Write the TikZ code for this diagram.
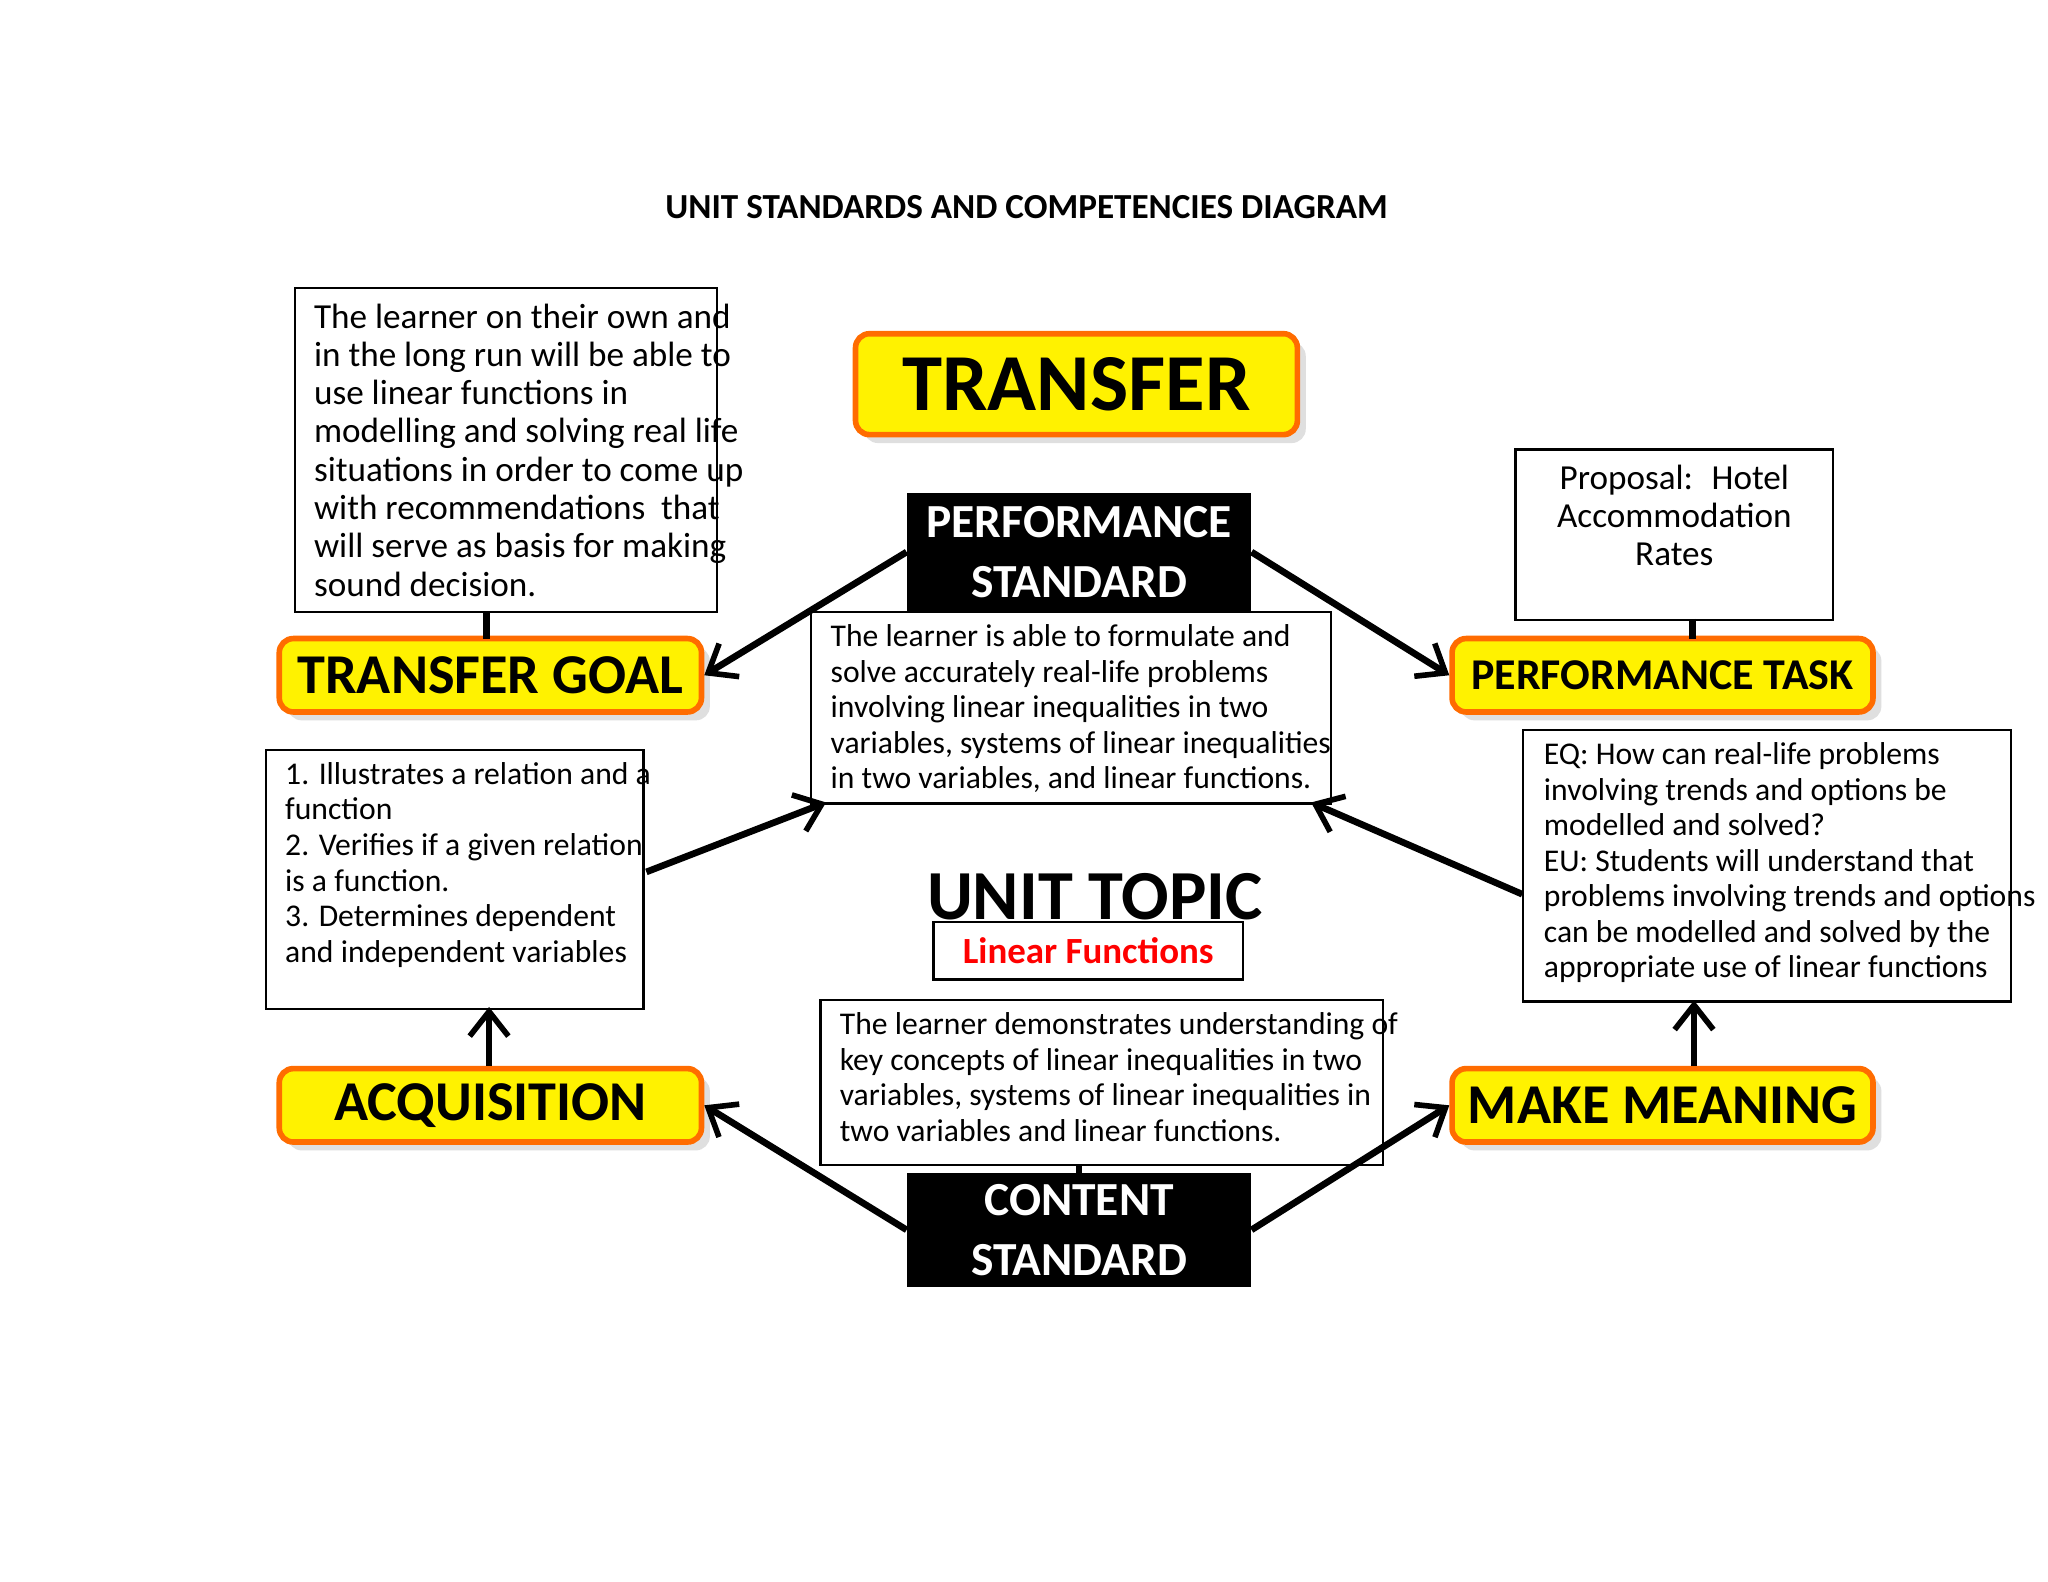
\documentclass[tikz,border=0pt]{standalone}
\usepackage{fontspec}
\setmainfont{Carlito}
\usetikzlibrary{arrows.meta,shadows}
\begin{document}
\begin{tikzpicture}[x=0.01311cm,y=-0.01311cm,
  ybox/.style={draw=orange!85!red,line width=1.6pt,rounded corners=4pt,fill=yellow,font=\bfseries\fontsize{16}{18}\selectfont,inner sep=0pt,drop shadow={opacity=0.25}},
  bbox/.style={fill=black,text=white,font=\bfseries\fontsize{13.5}{17}\selectfont,align=center,inner sep=0pt},
  tbox/.style={draw,line width=0.6pt,fill=white,align=left,anchor=north west,inner sep=0pt,font=\fontsize{9}{10.1}\selectfont},
  arr/.style={line width=1.9pt,-{Straight Barb[length=7pt,width=11pt,line width=1.6pt]}},
  con/.style={line width=1.9pt}]
\useasboundingbox (0,0) rectangle (1562,1206);
\fill[white] (0,0) rectangle (1562,1206);
\node[font=\bfseries\fontsize{10}{12}\selectfont] (title) at (783,158) {UNIT STANDARDS AND COMPETENCIES DIAGRAM};
\node[tbox,minimum width=322*0.01311cm,minimum height=247*0.01311cm] (tg) at (224,219) {};
\node[anchor=north west,align=left,font=\fontsize{10}{10.9}\selectfont,inner sep=0pt] (tgt) at (239,231) {The learner on their own and\\in the long run will be able to\\use linear functions in\\modelling and solving real life\\situations in order to come up\\with recommendations~ that\\will serve as basis for making\\sound decision.};
\node[ybox,minimum width=322*0.01311cm,minimum height=56*0.01311cm] (TG) at (374,515) {TRANSFER GOAL};
\node[ybox,minimum width=337*0.01311cm,minimum height=77*0.01311cm,font=\bfseries\fontsize{23}{26}\selectfont] (TR) at (821,293) {TRANSFER};
\node[bbox,minimum width=262*0.01311cm,minimum height=90*0.01311cm] (PS) at (823,421) {PERFORMANCE\\STANDARD};
\node[tbox,minimum width=242*0.01311cm,minimum height=130*0.01311cm] (prop) at (1155,342) {};
\node[align=center,font=\fontsize{10}{10.9}\selectfont,inner sep=0pt] (propt) at (1277,393) {Proposal:~ Hotel\\Accommodation\\Rates};
\node[ybox,minimum width=321*0.01311cm,minimum height=56*0.01311cm,font=\bfseries\fontsize{12.5}{15}\selectfont] (PT) at (1268,515) {PERFORMANCE TASK};
\node[tbox,minimum width=396*0.01311cm,minimum height=146*0.01311cm] (pst) at (618,466) {};
\node[anchor=north west,align=left,font=\fontsize{9}{10.1}\selectfont,inner sep=0pt] (pstt) at (633,476) {The learner is able to formulate and\\solve accurately real-life problems\\involving linear inequalities in two\\variables, systems of linear inequalities\\in two variables, and linear functions.};
\node[tbox,minimum width=288*0.01311cm,minimum height=198*0.01311cm] (lst) at (202,571) {};
\node[anchor=north west,align=left,font=\fontsize{9}{10.1}\selectfont,inner sep=0pt] (lstt) at (217,581) {1. Illustrates a relation and a\\function\\2. Verifies if a given relation\\is a function.\\3. Determines dependent\\and independent variables};
\node[tbox,minimum width=372*0.01311cm,minimum height=207*0.01311cm] (eq) at (1161,556) {};
\node[anchor=north west,align=left,font=\fontsize{9}{10.1}\selectfont,inner sep=0pt] (eqt) at (1177,566) {EQ: How can real-life problems\\involving trends and options be\\modelled and solved?\\EU: Students will understand that\\problems involving trends and options\\can be modelled and solved by the\\appropriate use of linear functions};
\node[font=\bfseries\fontsize{20}{22}\selectfont] (UT) at (835,684) {UNIT TOPIC};
\node[draw,line width=0.6pt,minimum width=236*0.01311cm,minimum height=44*0.01311cm,text=red,font=\bfseries\fontsize{10.5}{12}\selectfont,inner sep=0pt] (LF) at (830,725) {Linear Functions};
\node[tbox,minimum width=429*0.01311cm,minimum height=126*0.01311cm] (cst) at (625,762) {};
\node[anchor=north west,align=left,font=\fontsize{9}{10.1}\selectfont,inner sep=0pt] (cstt) at (640,772) {The learner demonstrates understanding of\\key concepts of linear inequalities in two\\variables, systems of linear inequalities in\\two variables and linear functions.};
\node[ybox,minimum width=322*0.01311cm,minimum height=56*0.01311cm] (AQ) at (374,843) {ACQUISITION};
\node[ybox,minimum width=321*0.01311cm,minimum height=56*0.01311cm] (MM) at (1268,843) {MAKE MEANING};
\node[bbox,minimum width=262*0.01311cm,minimum height=87*0.01311cm] (CS) at (823,938) {CONTENT\\STANDARD};
\coordinate (tgb) at (371,466); \coordinate (tgT) at (371,487);
\draw[con] (tgb) -- (tgT);
\coordinate (prb) at (1291,472); \coordinate (prT) at (1291,487);
\draw[con] (prb) -- (prT);
\coordinate (csb) at (823,888); \coordinate (csT) at (823,895);
\draw[con] (csb) -- (csT);
\draw[arr] (PS.west) -- (TG.east);
\draw[arr] (PS.east) -- (PT.west);
\coordinate (l1) at (493,665); \coordinate (l2) at (630,612);
\draw[arr] (l1) -- (l2);
\coordinate (e1) at (1161,682); \coordinate (e2) at (1000,612);
\draw[arr] (e1) -- (e2);
\coordinate (aqt) at (373,768);
\draw[arr] (AQ.north -| aqt) -- (aqt);
\coordinate (mmt) at (1292,763);
\draw[arr] (MM.north -| mmt) -- (mmt);
\draw[arr] (CS.west) -- (AQ.east);
\draw[arr] (CS.east) -- (MM.west);
\end{tikzpicture}
\end{document}
